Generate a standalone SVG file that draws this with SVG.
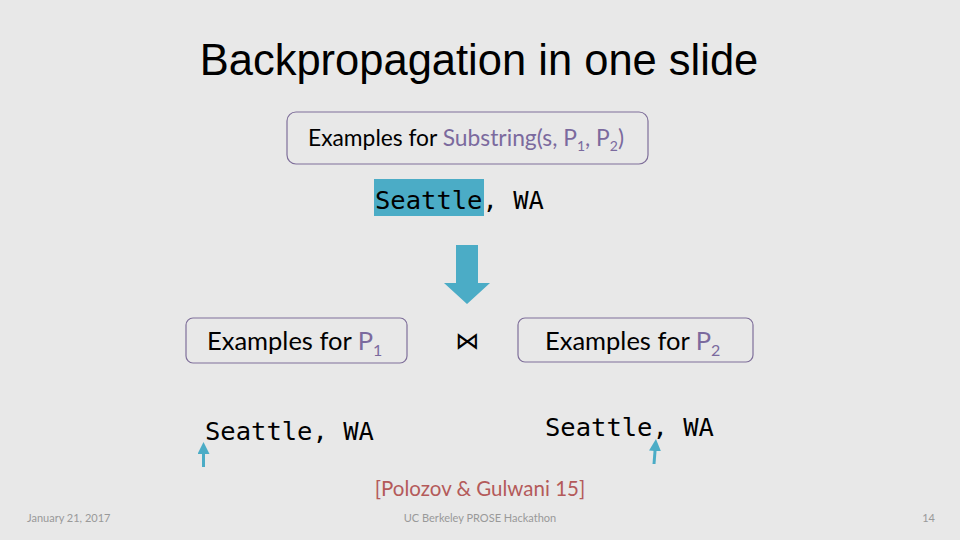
<svg xmlns="http://www.w3.org/2000/svg" width="960" height="540" viewBox="0 0 960 540">
<defs>
<style>
.bg{fill:#e8e8e8}
.box{fill:none;stroke:#7f6f9a;stroke-width:1.2}
.title{font-family:"Liberation Sans",Arial,sans-serif;font-size:43.5px;fill:#000}
.lbl{font-family:Lato,"Open Sans",sans-serif;fill:#000}
.pur{fill:#7b6a9e}
.mono{font-family:"DejaVu Sans Mono","Liberation Mono",monospace;font-size:25.5px;fill:#000}
.foot{font-family:Lato,"Open Sans",sans-serif;font-size:11px;fill:#999}
.cite{font-family:Lato,"Open Sans",sans-serif;font-size:20.5px;fill:#b45a5a}
.arr{fill:#4bacc6}
.uparr{stroke:#4bacc6;stroke-width:3;fill:none}
</style>
<marker id="uh" viewBox="0 0 10 10" refX="5" refY="5" markerWidth="4" markerHeight="4" orient="auto">
<path d="M0,0 L10,5 L0,10 z" fill="#4bacc6"/>
</marker>
</defs>
<rect class="bg" x="0" y="0" width="960" height="540"/>
<text class="title" x="479" y="75" text-anchor="middle">Backpropagation in one slide</text>

<g id="top-box">
<rect class="box" x="287" y="112" width="361" height="52" rx="9"/>
<text class="lbl" x="308" y="146" font-size="22.8">Examples for <tspan class="pur">Substring(s, P<tspan font-size="14" dy="5">1</tspan><tspan dy="-5">, P</tspan><tspan font-size="14" dy="5">2</tspan><tspan dy="-5">)</tspan></tspan></text>
</g>

<g id="input">
<rect x="374" y="179" width="110" height="37" fill="#4bacc6"/>
<text class="mono" x="375" y="209">Seattle, WA</text>
</g>

<g id="connectors">
<path class="arr" d="M456,245 H478 V283 H490 L467,304 L444,283 H456 Z"/>
<line class="uparr" x1="203.5" y1="467" x2="203.5" y2="448" marker-end="url(#uh)"/>
<line class="uparr" x1="654" y1="464" x2="655.5" y2="445" marker-end="url(#uh)"/>
</g>

<g id="p1-box">
<rect class="box" x="186" y="318" width="221" height="45" rx="7"/>
<text class="lbl" x="207" y="350" font-size="25.5">Examples for <tspan class="pur">P</tspan><tspan class="pur" font-size="16" dy="6">1</tspan></text>
</g>

<g id="join">
<text x="467" y="349" text-anchor="middle" font-family="'DejaVu Sans',sans-serif" font-size="24" fill="#000">⋈</text>
</g>

<g id="p2-box">
<rect class="box" x="518" y="318" width="235" height="44" rx="7"/>
<text class="lbl" x="545" y="350" font-size="25.5">Examples for <tspan class="pur">P</tspan><tspan class="pur" font-size="16" dy="6">2</tspan></text>
</g>

<g id="out1">
<text class="mono" x="205" y="440">Seattle, WA</text>
</g>
<g id="out2">
<text class="mono" x="545" y="436">Seattle, WA</text>
</g>

<text class="cite" x="480" y="496" text-anchor="middle">[Polozov &amp; Gulwani 15]</text>

<text class="foot" x="27" y="522">January 21, 2017</text>
<text class="foot" x="480" y="522" text-anchor="middle">UC Berkeley PROSE Hackathon</text>
<text class="foot" x="935" y="522" text-anchor="end">14</text>
</svg>
